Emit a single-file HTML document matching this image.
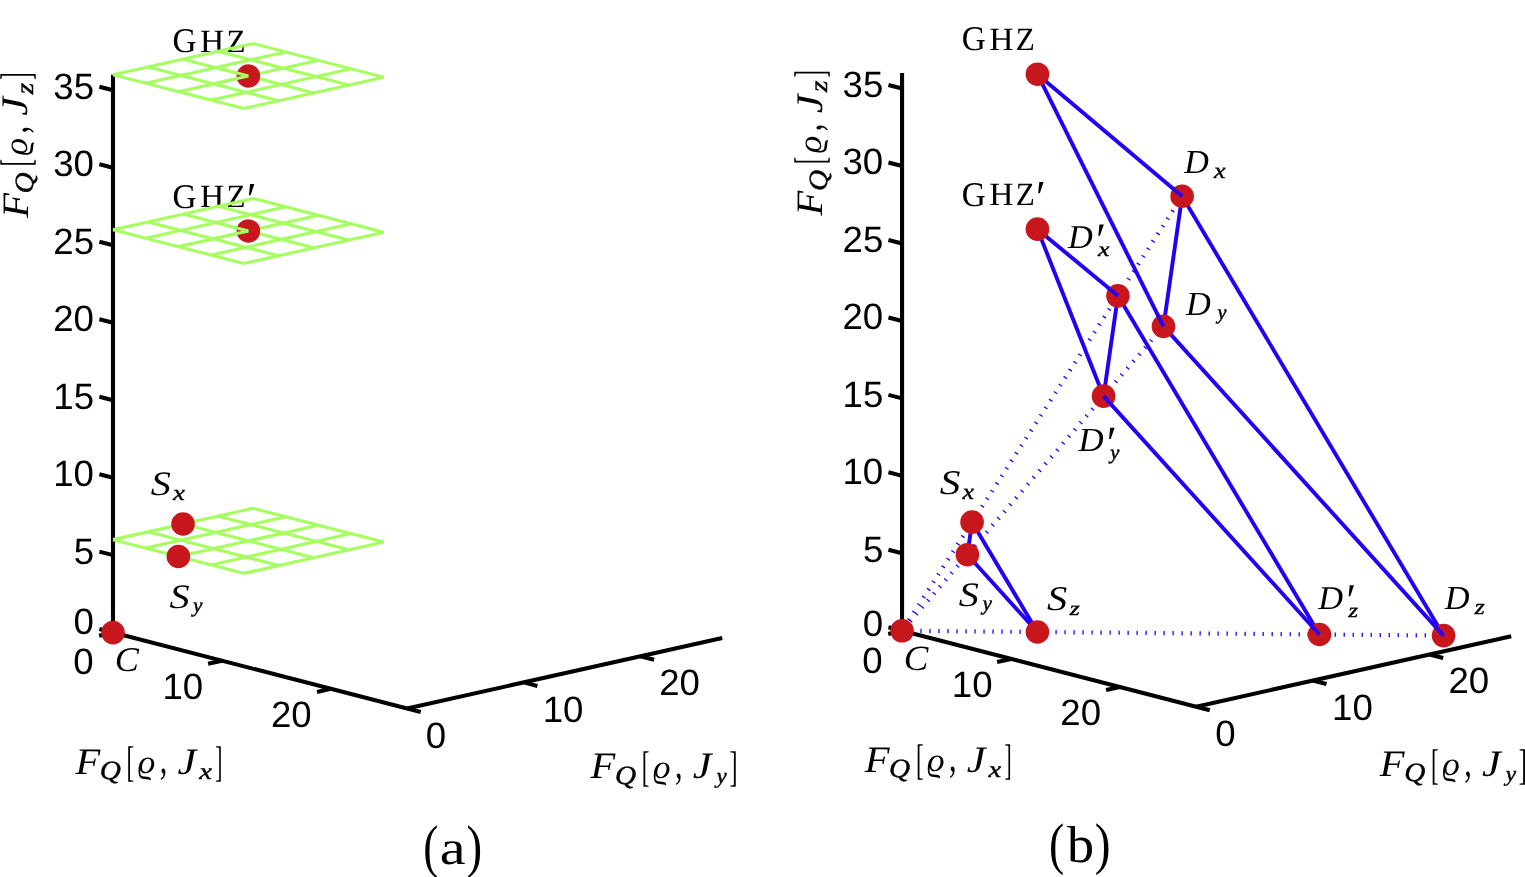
<!DOCTYPE html>
<html><head><meta charset="utf-8"><title>Figure</title>
<style>html,body{margin:0;padding:0;background:#fff;width:1525px;height:877px;overflow:hidden}svg{display:block}text{fill:#000;text-rendering:geometricPrecision}</style>
</head><body>
<svg width="1525" height="877" viewBox="0 0 1525 877">
<rect width="1525" height="877" fill="#fff"/>
<text transform="translate(73.632 563.641) scale(0.36600 0.36600)" font-family="'Liberation Sans', Arial, sans-serif" font-style="normal" font-size="100">5</text>
<text transform="translate(53.169 486.359) scale(0.36600 0.36600)" font-family="'Liberation Sans', Arial, sans-serif" font-style="normal" font-size="100">10</text>
<text transform="translate(53.277 408.701) scale(0.36600 0.36600)" font-family="'Liberation Sans', Arial, sans-serif" font-style="normal" font-size="100">15</text>
<text transform="translate(53.169 331.419) scale(0.36600 0.36600)" font-family="'Liberation Sans', Arial, sans-serif" font-style="normal" font-size="100">20</text>
<text transform="translate(53.277 253.949) scale(0.36600 0.36600)" font-family="'Liberation Sans', Arial, sans-serif" font-style="normal" font-size="100">25</text>
<text transform="translate(53.169 176.479) scale(0.36600 0.36600)" font-family="'Liberation Sans', Arial, sans-serif" font-style="normal" font-size="100">30</text>
<text transform="translate(53.277 99.009) scale(0.36600 0.36600)" font-family="'Liberation Sans', Arial, sans-serif" font-style="normal" font-size="100">35</text>
<text transform="translate(73.475 634.149) scale(0.36600 0.36600)" font-family="'Liberation Sans', Arial, sans-serif" font-style="normal" font-size="100">0</text>
<text transform="translate(73.372 674.199) scale(0.36600 0.36600)" font-family="'Liberation Sans', Arial, sans-serif" font-style="normal" font-size="100">0</text>
<text transform="translate(162.516 699.099) scale(0.36600 0.36600)" font-family="'Liberation Sans', Arial, sans-serif" font-style="normal" font-size="100">10</text>
<text transform="translate(270.989 727.199) scale(0.36600 0.36600)" font-family="'Liberation Sans', Arial, sans-serif" font-style="normal" font-size="100">20</text>
<text transform="translate(425.872 747.949) scale(0.36600 0.36600)" font-family="'Liberation Sans', Arial, sans-serif" font-style="normal" font-size="100">0</text>
<text transform="translate(542.766 721.599) scale(0.36600 0.36600)" font-family="'Liberation Sans', Arial, sans-serif" font-style="normal" font-size="100">10</text>
<text transform="translate(659.139 695.499) scale(0.36600 0.36600)" font-family="'Liberation Sans', Arial, sans-serif" font-style="normal" font-size="100">20</text>
<text transform="translate(75.418 773.6) scale(0.40512 0.37264)" font-family="'Liberation Serif', 'Times New Roman', serif" font-style="italic" font-size="100">F</text>
<text transform="translate(99.813 778.717) scale(0.29224 0.26267)" font-family="'Liberation Serif', 'Times New Roman', serif" font-style="italic" font-size="100" stroke="#000" stroke-width="1.622" stroke-linejoin="round">Q</text>
<text transform="translate(126.6 776.461) scale(0.22905 0.42893)" font-family="'Liberation Serif', 'Times New Roman', serif" font-style="normal" font-size="100">[</text>
<text transform="translate(137.738 772.958) scale(0.34682 0.33018)" font-family="'Liberation Serif', 'Times New Roman', serif" font-style="italic" font-size="100">ϱ</text>
<text transform="translate(159.749 773.213) scale(0.30216 0.44776)" font-family="'Liberation Serif', 'Times New Roman', serif" font-style="normal" font-size="100">,</text>
<text transform="translate(177.563 773.534) scale(0.42114 0.37469)" font-family="'Liberation Serif', 'Times New Roman', serif" font-style="italic" font-size="100">J</text>
<text transform="translate(199.275 778.875) scale(0.28636 0.23203)" font-family="'Liberation Serif', 'Times New Roman', serif" font-style="italic" font-size="100" stroke="#000" stroke-width="1.736" stroke-linejoin="round">x</text>
<text transform="translate(215.321 776.461) scale(0.21558 0.42893)" font-family="'Liberation Serif', 'Times New Roman', serif" font-style="normal" font-size="100">]</text>
<text transform="translate(590.618 778.4) scale(0.40512 0.37264)" font-family="'Liberation Serif', 'Times New Roman', serif" font-style="italic" font-size="100">F</text>
<text transform="translate(615.013 783.517) scale(0.29224 0.26267)" font-family="'Liberation Serif', 'Times New Roman', serif" font-style="italic" font-size="100" stroke="#000" stroke-width="1.622" stroke-linejoin="round">Q</text>
<text transform="translate(641.8 781.261) scale(0.22905 0.42893)" font-family="'Liberation Serif', 'Times New Roman', serif" font-style="normal" font-size="100">[</text>
<text transform="translate(652.938 777.758) scale(0.34682 0.33018)" font-family="'Liberation Serif', 'Times New Roman', serif" font-style="italic" font-size="100">ϱ</text>
<text transform="translate(674.949 778.013) scale(0.30216 0.44776)" font-family="'Liberation Serif', 'Times New Roman', serif" font-style="normal" font-size="100">,</text>
<text transform="translate(692.763 778.334) scale(0.42114 0.37469)" font-family="'Liberation Serif', 'Times New Roman', serif" font-style="italic" font-size="100">J</text>
<text transform="translate(716.463 783.326) scale(0.23208 0.22006)" font-family="'Liberation Serif', 'Times New Roman', serif" font-style="italic" font-size="100" stroke="#000" stroke-width="1.991" stroke-linejoin="round">y</text>
<text transform="translate(729.624 781.261) scale(0.24253 0.42893)" font-family="'Liberation Serif', 'Times New Roman', serif" font-style="normal" font-size="100">]</text>
<text transform="translate(27.5 217.782) rotate(-90) scale(0.40512 0.37264)" font-family="'Liberation Serif', 'Times New Roman', serif" font-style="italic" font-size="100">F</text>
<text transform="translate(32.617 193.387) rotate(-90) scale(0.29224 0.26267)" font-family="'Liberation Serif', 'Times New Roman', serif" font-style="italic" font-size="100" stroke="#000" stroke-width="1.622" stroke-linejoin="round">Q</text>
<text transform="translate(30.361 166.6) rotate(-90) scale(0.22905 0.42893)" font-family="'Liberation Serif', 'Times New Roman', serif" font-style="normal" font-size="100">[</text>
<text transform="translate(26.858 155.462) rotate(-90) scale(0.34682 0.33018)" font-family="'Liberation Serif', 'Times New Roman', serif" font-style="italic" font-size="100">ϱ</text>
<text transform="translate(27.113 133.451) rotate(-90) scale(0.30216 0.44776)" font-family="'Liberation Serif', 'Times New Roman', serif" font-style="normal" font-size="100">,</text>
<text transform="translate(27.434 115.637) rotate(-90) scale(0.42114 0.37469)" font-family="'Liberation Serif', 'Times New Roman', serif" font-style="italic" font-size="100">J</text>
<text transform="translate(32.875 94.343) rotate(-90) scale(0.29571 0.24946)" font-family="'Liberation Serif', 'Times New Roman', serif" font-style="italic" font-size="100" stroke="#000" stroke-width="1.651" stroke-linejoin="round">z</text>
<text transform="translate(30.361 79.711) rotate(-90) scale(0.22456 0.42893)" font-family="'Liberation Serif', 'Times New Roman', serif" font-style="normal" font-size="100">]</text>
<text transform="translate(172.537 52.263) scale(0.33236 0.34530)" font-family="'Liberation Serif', 'Times New Roman', serif" font-style="normal" font-size="100">G</text>
<text transform="translate(200.033 51.5) scale(0.33581 0.32377)" font-family="'Liberation Serif', 'Times New Roman', serif" font-style="normal" font-size="100">H</text>
<text transform="translate(226.503 51.5) scale(0.31281 0.32377)" font-family="'Liberation Serif', 'Times New Roman', serif" font-style="normal" font-size="100">Z</text>
<text transform="translate(172.537 207.963) scale(0.33236 0.34530)" font-family="'Liberation Serif', 'Times New Roman', serif" font-style="normal" font-size="100">G</text>
<text transform="translate(200.033 207.2) scale(0.33581 0.32377)" font-family="'Liberation Serif', 'Times New Roman', serif" font-style="normal" font-size="100">H</text>
<text transform="translate(226.503 207.2) scale(0.31281 0.32377)" font-family="'Liberation Serif', 'Times New Roman', serif" font-style="normal" font-size="100">Z</text>
<text transform="translate(246.683 214.846) scale(0.44956 0.47262)" font-family="'Liberation Serif', 'Times New Roman', serif" font-style="normal" font-size="100">′</text>
<text transform="translate(150.728 495.466) scale(0.40240 0.34233)" font-family="'Liberation Serif', 'Times New Roman', serif" font-style="italic" font-size="100">S</text>
<text transform="translate(173.05 500.275) scale(0.26631 0.21678)" font-family="'Liberation Serif', 'Times New Roman', serif" font-style="italic" font-size="100" stroke="#000" stroke-width="1.863" stroke-linejoin="round">x</text>
<text transform="translate(169.428 607.566) scale(0.40240 0.34233)" font-family="'Liberation Serif', 'Times New Roman', serif" font-style="italic" font-size="100">S</text>
<text transform="translate(193.105 612.049) scale(0.21314 0.20969)" font-family="'Liberation Serif', 'Times New Roman', serif" font-style="italic" font-size="100" stroke="#000" stroke-width="2.129" stroke-linejoin="round">y</text>
<text transform="translate(114.691 671.078) scale(0.36094 0.34704)" font-family="'Liberation Serif', 'Times New Roman', serif" font-style="italic" font-size="100">C</text>
<text transform="translate(423.215 865.833) scale(0.45165 0.58562)" font-family="'Liberation Serif', 'Times New Roman', serif" font-style="normal" font-size="100">(</text>
<text transform="translate(439.853 864.027) scale(0.58225 0.48434)" font-family="'Liberation Serif', 'Times New Roman', serif" font-style="normal" font-size="100">a</text>
<text transform="translate(466.482 865.833) scale(0.47112 0.58562)" font-family="'Liberation Serif', 'Times New Roman', serif" font-style="normal" font-size="100">)</text>
<text transform="translate(862.932 561.641) scale(0.36600 0.36600)" font-family="'Liberation Sans', Arial, sans-serif" font-style="normal" font-size="100">5</text>
<text transform="translate(842.469 484.359) scale(0.36600 0.36600)" font-family="'Liberation Sans', Arial, sans-serif" font-style="normal" font-size="100">10</text>
<text transform="translate(842.577 406.701) scale(0.36600 0.36600)" font-family="'Liberation Sans', Arial, sans-serif" font-style="normal" font-size="100">15</text>
<text transform="translate(842.469 329.419) scale(0.36600 0.36600)" font-family="'Liberation Sans', Arial, sans-serif" font-style="normal" font-size="100">20</text>
<text transform="translate(842.577 251.949) scale(0.36600 0.36600)" font-family="'Liberation Sans', Arial, sans-serif" font-style="normal" font-size="100">25</text>
<text transform="translate(842.469 174.479) scale(0.36600 0.36600)" font-family="'Liberation Sans', Arial, sans-serif" font-style="normal" font-size="100">30</text>
<text transform="translate(842.577 97.009) scale(0.36600 0.36600)" font-family="'Liberation Sans', Arial, sans-serif" font-style="normal" font-size="100">35</text>
<text transform="translate(862.775 636.499) scale(0.36600 0.36600)" font-family="'Liberation Sans', Arial, sans-serif" font-style="normal" font-size="100">0</text>
<text transform="translate(862.372 672.599) scale(0.36600 0.36600)" font-family="'Liberation Sans', Arial, sans-serif" font-style="normal" font-size="100">0</text>
<text transform="translate(951.816 697.099) scale(0.36600 0.36600)" font-family="'Liberation Sans', Arial, sans-serif" font-style="normal" font-size="100">10</text>
<text transform="translate(1060.289 725.199) scale(0.36600 0.36600)" font-family="'Liberation Sans', Arial, sans-serif" font-style="normal" font-size="100">20</text>
<text transform="translate(1215.172 745.949) scale(0.36600 0.36600)" font-family="'Liberation Sans', Arial, sans-serif" font-style="normal" font-size="100">0</text>
<text transform="translate(1332.066 719.599) scale(0.36600 0.36600)" font-family="'Liberation Sans', Arial, sans-serif" font-style="normal" font-size="100">10</text>
<text transform="translate(1448.439 693.499) scale(0.36600 0.36600)" font-family="'Liberation Sans', Arial, sans-serif" font-style="normal" font-size="100">20</text>
<text transform="translate(864.718 771.6) scale(0.40512 0.37264)" font-family="'Liberation Serif', 'Times New Roman', serif" font-style="italic" font-size="100">F</text>
<text transform="translate(889.113 776.717) scale(0.29224 0.26267)" font-family="'Liberation Serif', 'Times New Roman', serif" font-style="italic" font-size="100" stroke="#000" stroke-width="1.622" stroke-linejoin="round">Q</text>
<text transform="translate(915.9 774.461) scale(0.22905 0.42893)" font-family="'Liberation Serif', 'Times New Roman', serif" font-style="normal" font-size="100">[</text>
<text transform="translate(927.038 770.958) scale(0.34682 0.33018)" font-family="'Liberation Serif', 'Times New Roman', serif" font-style="italic" font-size="100">ϱ</text>
<text transform="translate(949.049 771.213) scale(0.30216 0.44776)" font-family="'Liberation Serif', 'Times New Roman', serif" font-style="normal" font-size="100">,</text>
<text transform="translate(966.863 771.534) scale(0.42114 0.37469)" font-family="'Liberation Serif', 'Times New Roman', serif" font-style="italic" font-size="100">J</text>
<text transform="translate(988.575 776.875) scale(0.28636 0.23203)" font-family="'Liberation Serif', 'Times New Roman', serif" font-style="italic" font-size="100" stroke="#000" stroke-width="1.736" stroke-linejoin="round">x</text>
<text transform="translate(1004.621 774.461) scale(0.21558 0.42893)" font-family="'Liberation Serif', 'Times New Roman', serif" font-style="normal" font-size="100">]</text>
<text transform="translate(1379.818 776.1) scale(0.40512 0.37264)" font-family="'Liberation Serif', 'Times New Roman', serif" font-style="italic" font-size="100">F</text>
<text transform="translate(1404.213 781.217) scale(0.29224 0.26267)" font-family="'Liberation Serif', 'Times New Roman', serif" font-style="italic" font-size="100" stroke="#000" stroke-width="1.622" stroke-linejoin="round">Q</text>
<text transform="translate(1431 778.961) scale(0.22905 0.42893)" font-family="'Liberation Serif', 'Times New Roman', serif" font-style="normal" font-size="100">[</text>
<text transform="translate(1442.138 775.458) scale(0.34682 0.33018)" font-family="'Liberation Serif', 'Times New Roman', serif" font-style="italic" font-size="100">ϱ</text>
<text transform="translate(1464.149 775.713) scale(0.30216 0.44776)" font-family="'Liberation Serif', 'Times New Roman', serif" font-style="normal" font-size="100">,</text>
<text transform="translate(1481.963 776.034) scale(0.42114 0.37469)" font-family="'Liberation Serif', 'Times New Roman', serif" font-style="italic" font-size="100">J</text>
<text transform="translate(1505.663 781.026) scale(0.23208 0.22006)" font-family="'Liberation Serif', 'Times New Roman', serif" font-style="italic" font-size="100" stroke="#000" stroke-width="1.991" stroke-linejoin="round">y</text>
<text transform="translate(1518.824 778.961) scale(0.24253 0.42893)" font-family="'Liberation Serif', 'Times New Roman', serif" font-style="normal" font-size="100">]</text>
<text transform="translate(821.6 215.482) rotate(-90) scale(0.40512 0.37264)" font-family="'Liberation Serif', 'Times New Roman', serif" font-style="italic" font-size="100">F</text>
<text transform="translate(826.717 191.087) rotate(-90) scale(0.29224 0.26267)" font-family="'Liberation Serif', 'Times New Roman', serif" font-style="italic" font-size="100" stroke="#000" stroke-width="1.622" stroke-linejoin="round">Q</text>
<text transform="translate(824.461 164.3) rotate(-90) scale(0.22905 0.42893)" font-family="'Liberation Serif', 'Times New Roman', serif" font-style="normal" font-size="100">[</text>
<text transform="translate(820.958 153.162) rotate(-90) scale(0.34682 0.33018)" font-family="'Liberation Serif', 'Times New Roman', serif" font-style="italic" font-size="100">ϱ</text>
<text transform="translate(821.213 131.151) rotate(-90) scale(0.30216 0.44776)" font-family="'Liberation Serif', 'Times New Roman', serif" font-style="normal" font-size="100">,</text>
<text transform="translate(821.534 113.337) rotate(-90) scale(0.42114 0.37469)" font-family="'Liberation Serif', 'Times New Roman', serif" font-style="italic" font-size="100">J</text>
<text transform="translate(826.975 92.043) rotate(-90) scale(0.29571 0.24946)" font-family="'Liberation Serif', 'Times New Roman', serif" font-style="italic" font-size="100" stroke="#000" stroke-width="1.651" stroke-linejoin="round">z</text>
<text transform="translate(824.461 77.411) rotate(-90) scale(0.22456 0.42893)" font-family="'Liberation Serif', 'Times New Roman', serif" font-style="normal" font-size="100">]</text>
<text transform="translate(961.837 50.263) scale(0.33236 0.34530)" font-family="'Liberation Serif', 'Times New Roman', serif" font-style="normal" font-size="100">G</text>
<text transform="translate(989.333 49.5) scale(0.33581 0.32377)" font-family="'Liberation Serif', 'Times New Roman', serif" font-style="normal" font-size="100">H</text>
<text transform="translate(1015.803 49.5) scale(0.31281 0.32377)" font-family="'Liberation Serif', 'Times New Roman', serif" font-style="normal" font-size="100">Z</text>
<text transform="translate(961.837 205.963) scale(0.33236 0.34530)" font-family="'Liberation Serif', 'Times New Roman', serif" font-style="normal" font-size="100">G</text>
<text transform="translate(989.333 205.2) scale(0.33581 0.32377)" font-family="'Liberation Serif', 'Times New Roman', serif" font-style="normal" font-size="100">H</text>
<text transform="translate(1015.803 205.2) scale(0.31281 0.32377)" font-family="'Liberation Serif', 'Times New Roman', serif" font-style="normal" font-size="100">Z</text>
<text transform="translate(1035.983 212.846) scale(0.44956 0.47262)" font-family="'Liberation Serif', 'Times New Roman', serif" font-style="normal" font-size="100">′</text>
<text transform="translate(1184.283 172.635) scale(0.34110 0.33499)" font-family="'Liberation Serif', 'Times New Roman', serif" font-style="italic" font-size="100">D</text>
<text transform="translate(1213.939 177.775) scale(0.25739 0.22550)" font-family="'Liberation Serif', 'Times New Roman', serif" font-style="italic" font-size="100" stroke="#000" stroke-width="1.864" stroke-linejoin="round">x</text>
<text transform="translate(1067.885 247.835) scale(0.34249 0.33347)" font-family="'Liberation Serif', 'Times New Roman', serif" font-style="italic" font-size="100">D</text>
<text transform="translate(1095.901 255.804) scale(0.46621 0.48113)" font-family="'Liberation Serif', 'Times New Roman', serif" font-style="normal" font-size="100">′</text>
<text transform="translate(1097.942 256.175) scale(0.25962 0.21025)" font-family="'Liberation Serif', 'Times New Roman', serif" font-style="italic" font-size="100" stroke="#000" stroke-width="1.915" stroke-linejoin="round">x</text>
<text transform="translate(1185.886 314.534) scale(0.34389 0.33803)" font-family="'Liberation Serif', 'Times New Roman', serif" font-style="italic" font-size="100">D</text>
<text transform="translate(1217.41 318.945) scale(0.20177 0.20524)" font-family="'Liberation Serif', 'Times New Roman', serif" font-style="italic" font-size="100" stroke="#000" stroke-width="2.211" stroke-linejoin="round">y</text>
<text transform="translate(1078.491 451.434) scale(0.34806 0.33803)" font-family="'Liberation Serif', 'Times New Roman', serif" font-style="italic" font-size="100">D</text>
<text transform="translate(1106.801 458.625) scale(0.46621 0.47687)" font-family="'Liberation Serif', 'Times New Roman', serif" font-style="normal" font-size="100">′</text>
<text transform="translate(1110.126 458.841) scale(0.20366 0.20080)" font-family="'Liberation Serif', 'Times New Roman', serif" font-style="italic" font-size="100" stroke="#000" stroke-width="2.225" stroke-linejoin="round">y</text>
<text transform="translate(939.716 493.661) scale(0.41299 0.34679)" font-family="'Liberation Serif', 'Times New Roman', serif" font-style="italic" font-size="100">S</text>
<text transform="translate(962.442 498.575) scale(0.25962 0.22550)" font-family="'Liberation Serif', 'Times New Roman', serif" font-style="italic" font-size="100" stroke="#000" stroke-width="1.855" stroke-linejoin="round">x</text>
<text transform="translate(958.728 605.566) scale(0.40240 0.34233)" font-family="'Liberation Serif', 'Times New Roman', serif" font-style="italic" font-size="100">S</text>
<text transform="translate(982.405 610.049) scale(0.21314 0.20969)" font-family="'Liberation Serif', 'Times New Roman', serif" font-style="italic" font-size="100" stroke="#000" stroke-width="2.129" stroke-linejoin="round">y</text>
<text transform="translate(1046.926 610.263) scale(0.40452 0.34530)" font-family="'Liberation Serif', 'Times New Roman', serif" font-style="italic" font-size="100">S</text>
<text transform="translate(1069.714 614.975) scale(0.25697 0.20371)" font-family="'Liberation Serif', 'Times New Roman', serif" font-style="italic" font-size="100" stroke="#000" stroke-width="1.954" stroke-linejoin="round">z</text>
<text transform="translate(1318.286 608.635) scale(0.34389 0.33194)" font-family="'Liberation Serif', 'Times New Roman', serif" font-style="italic" font-size="100">D</text>
<text transform="translate(1346.524 615.867) scale(0.44124 0.46836)" font-family="'Liberation Serif', 'Times New Roman', serif" font-style="normal" font-size="100">′</text>
<text transform="translate(1348.599 616.575) scale(0.24406 0.19935)" font-family="'Liberation Serif', 'Times New Roman', serif" font-style="italic" font-size="100" stroke="#000" stroke-width="2.030" stroke-linejoin="round">z</text>
<text transform="translate(1444.686 609.234) scale(0.34389 0.33651)" font-family="'Liberation Serif', 'Times New Roman', serif" font-style="italic" font-size="100">D</text>
<text transform="translate(1474.814 614.475) scale(0.25697 0.21678)" font-family="'Liberation Serif', 'Times New Roman', serif" font-style="italic" font-size="100" stroke="#000" stroke-width="1.900" stroke-linejoin="round">z</text>
<text transform="translate(903.746 669.771) scale(0.36899 0.35449)" font-family="'Liberation Serif', 'Times New Roman', serif" font-style="italic" font-size="100">C</text>
<text transform="translate(1049.098 862.915) scale(0.45554 0.57238)" font-family="'Liberation Serif', 'Times New Roman', serif" font-style="normal" font-size="100">(</text>
<text transform="translate(1067 861.992) scale(0.54123 0.52017)" font-family="'Liberation Serif', 'Times New Roman', serif" font-style="normal" font-size="100">b</text>
<text transform="translate(1094.769 862.915) scale(0.47501 0.57238)" font-family="'Liberation Serif', 'Times New Roman', serif" font-style="normal" font-size="100">)</text>
<line x1="113" y1="632.6" x2="113" y2="74.816" stroke="#000" stroke-width="4.1"/>
<line x1="113" y1="632.6" x2="407.111" y2="708.497" stroke="#000" stroke-width="4.1"/>
<line x1="407.111" y1="708.497" x2="722.201" y2="638" stroke="#000" stroke-width="4.1"/>
<line x1="99.384" y1="629.086" x2="113" y2="632.6" stroke="#000" stroke-width="4.1"/>
<line x1="99.384" y1="551.616" x2="113" y2="555.13" stroke="#000" stroke-width="4.1"/>
<line x1="99.384" y1="474.146" x2="113" y2="477.66" stroke="#000" stroke-width="4.1"/>
<line x1="99.384" y1="396.676" x2="113" y2="400.19" stroke="#000" stroke-width="4.1"/>
<line x1="99.384" y1="319.206" x2="113" y2="322.72" stroke="#000" stroke-width="4.1"/>
<line x1="99.384" y1="241.736" x2="113" y2="245.25" stroke="#000" stroke-width="4.1"/>
<line x1="99.384" y1="164.266" x2="113" y2="167.78" stroke="#000" stroke-width="4.1"/>
<line x1="99.384" y1="86.796" x2="113" y2="90.31" stroke="#000" stroke-width="4.1"/>
<line x1="99.142" y1="635.701" x2="113" y2="632.6" stroke="#000" stroke-width="4.1"/>
<line x1="208.072" y1="663.811" x2="221.93" y2="660.71" stroke="#000" stroke-width="4.1"/>
<line x1="317.002" y1="691.921" x2="330.86" y2="688.82" stroke="#000" stroke-width="4.1"/>
<line x1="407.111" y1="708.497" x2="420.727" y2="712.011" stroke="#000" stroke-width="4.1"/>
<line x1="523.811" y1="682.387" x2="537.427" y2="685.901" stroke="#000" stroke-width="4.1"/>
<line x1="640.511" y1="656.277" x2="654.127" y2="659.791" stroke="#000" stroke-width="4.1"/>
<line x1="902.05" y1="630.8" x2="902.05" y2="73.016" stroke="#000" stroke-width="4.1"/>
<line x1="902.05" y1="630.8" x2="1196.161" y2="706.697" stroke="#000" stroke-width="4.1"/>
<line x1="1196.161" y1="706.697" x2="1511.251" y2="636.2" stroke="#000" stroke-width="4.1"/>
<line x1="888.434" y1="627.286" x2="902.05" y2="630.8" stroke="#000" stroke-width="4.1"/>
<line x1="888.434" y1="549.816" x2="902.05" y2="553.33" stroke="#000" stroke-width="4.1"/>
<line x1="888.434" y1="472.346" x2="902.05" y2="475.86" stroke="#000" stroke-width="4.1"/>
<line x1="888.434" y1="394.876" x2="902.05" y2="398.39" stroke="#000" stroke-width="4.1"/>
<line x1="888.434" y1="317.406" x2="902.05" y2="320.92" stroke="#000" stroke-width="4.1"/>
<line x1="888.434" y1="239.936" x2="902.05" y2="243.45" stroke="#000" stroke-width="4.1"/>
<line x1="888.434" y1="162.466" x2="902.05" y2="165.98" stroke="#000" stroke-width="4.1"/>
<line x1="888.434" y1="84.996" x2="902.05" y2="88.51" stroke="#000" stroke-width="4.1"/>
<line x1="888.192" y1="633.901" x2="902.05" y2="630.8" stroke="#000" stroke-width="4.1"/>
<line x1="997.122" y1="662.011" x2="1010.98" y2="658.91" stroke="#000" stroke-width="4.1"/>
<line x1="1106.052" y1="690.121" x2="1119.91" y2="687.02" stroke="#000" stroke-width="4.1"/>
<line x1="1196.161" y1="706.697" x2="1209.777" y2="710.211" stroke="#000" stroke-width="4.1"/>
<line x1="1312.861" y1="680.587" x2="1326.477" y2="684.101" stroke="#000" stroke-width="4.1"/>
<line x1="1429.561" y1="654.477" x2="1443.177" y2="657.991" stroke="#000" stroke-width="4.1"/>
<line x1="113" y1="539.636" x2="253.04" y2="508.304" stroke="#a6ff60" stroke-width="3.1"/>
<line x1="113" y1="539.636" x2="243.716" y2="573.368" stroke="#a6ff60" stroke-width="3.1"/>
<line x1="145.679" y1="548.069" x2="285.719" y2="516.737" stroke="#a6ff60" stroke-width="3.1"/>
<line x1="148.01" y1="531.803" x2="278.726" y2="565.535" stroke="#a6ff60" stroke-width="3.1"/>
<line x1="178.358" y1="556.502" x2="318.398" y2="525.17" stroke="#a6ff60" stroke-width="3.1"/>
<line x1="183.02" y1="523.97" x2="313.736" y2="557.702" stroke="#a6ff60" stroke-width="3.1"/>
<line x1="211.037" y1="564.935" x2="351.077" y2="533.603" stroke="#a6ff60" stroke-width="3.1"/>
<line x1="218.03" y1="516.137" x2="348.746" y2="549.869" stroke="#a6ff60" stroke-width="3.1"/>
<line x1="243.716" y1="573.368" x2="383.756" y2="542.036" stroke="#a6ff60" stroke-width="3.1"/>
<line x1="253.04" y1="508.304" x2="383.756" y2="542.036" stroke="#a6ff60" stroke-width="3.1"/>
<line x1="113" y1="229.756" x2="253.04" y2="198.424" stroke="#a6ff60" stroke-width="3.1"/>
<line x1="113" y1="229.756" x2="243.716" y2="263.488" stroke="#a6ff60" stroke-width="3.1"/>
<line x1="145.679" y1="238.189" x2="285.719" y2="206.857" stroke="#a6ff60" stroke-width="3.1"/>
<line x1="148.01" y1="221.923" x2="278.726" y2="255.655" stroke="#a6ff60" stroke-width="3.1"/>
<line x1="178.358" y1="246.622" x2="318.398" y2="215.29" stroke="#a6ff60" stroke-width="3.1"/>
<line x1="183.02" y1="214.09" x2="313.736" y2="247.822" stroke="#a6ff60" stroke-width="3.1"/>
<line x1="211.037" y1="255.055" x2="351.077" y2="223.723" stroke="#a6ff60" stroke-width="3.1"/>
<line x1="218.03" y1="206.257" x2="348.746" y2="239.989" stroke="#a6ff60" stroke-width="3.1"/>
<line x1="243.716" y1="263.488" x2="383.756" y2="232.156" stroke="#a6ff60" stroke-width="3.1"/>
<line x1="253.04" y1="198.424" x2="383.756" y2="232.156" stroke="#a6ff60" stroke-width="3.1"/>
<line x1="113" y1="74.816" x2="253.04" y2="43.484" stroke="#a6ff60" stroke-width="3.1"/>
<line x1="113" y1="74.816" x2="243.716" y2="108.548" stroke="#a6ff60" stroke-width="3.1"/>
<line x1="145.679" y1="83.249" x2="285.719" y2="51.917" stroke="#a6ff60" stroke-width="3.1"/>
<line x1="148.01" y1="66.983" x2="278.726" y2="100.715" stroke="#a6ff60" stroke-width="3.1"/>
<line x1="178.358" y1="91.682" x2="318.398" y2="60.35" stroke="#a6ff60" stroke-width="3.1"/>
<line x1="183.02" y1="59.15" x2="313.736" y2="92.882" stroke="#a6ff60" stroke-width="3.1"/>
<line x1="211.037" y1="100.115" x2="351.077" y2="68.783" stroke="#a6ff60" stroke-width="3.1"/>
<line x1="218.03" y1="51.317" x2="348.746" y2="85.049" stroke="#a6ff60" stroke-width="3.1"/>
<line x1="243.716" y1="108.548" x2="383.756" y2="77.216" stroke="#a6ff60" stroke-width="3.1"/>
<line x1="253.04" y1="43.484" x2="383.756" y2="77.216" stroke="#a6ff60" stroke-width="3.1"/>
<circle cx="113" cy="632.6" r="11.8" fill="#c8171c"/>
<circle cx="183.02" cy="523.97" r="11.8" fill="#c8171c"/>
<circle cx="178.358" cy="556.502" r="11.8" fill="#c8171c"/>
<circle cx="248.378" cy="76.016" r="11.8" fill="#c8171c"/>
<circle cx="248.378" cy="230.956" r="11.8" fill="#c8171c"/>
<line x1="215.699" y1="67.583" x2="248.378" y2="76.016" stroke="#a6ff60" stroke-width="3.1"/>
<line x1="213.368" y1="83.849" x2="248.378" y2="76.016" stroke="#a6ff60" stroke-width="3.1"/>
<line x1="215.699" y1="222.523" x2="248.378" y2="230.956" stroke="#a6ff60" stroke-width="3.1"/>
<line x1="213.368" y1="238.789" x2="248.378" y2="230.956" stroke="#a6ff60" stroke-width="3.1"/>
<line x1="902.05" y1="630.8" x2="1182.13" y2="196.28" stroke="#2200f5" stroke-width="4.2" stroke-dasharray="1.3 7.705" stroke-dashoffset="-3.5"/>
<line x1="902.05" y1="630.8" x2="1163.482" y2="326.408" stroke="#2200f5" stroke-width="4.2" stroke-dasharray="1.3 7.705" stroke-dashoffset="-3.5"/>
<line x1="902.05" y1="630.8" x2="1443.562" y2="635.6" stroke="#2200f5" stroke-width="4.2" stroke-dasharray="1.3 7.705" stroke-dashoffset="-0.3"/>
<line x1="1037.428" y1="74.216" x2="1182.13" y2="196.28" stroke="#2200f5" stroke-width="3.9"/>
<line x1="1037.428" y1="74.216" x2="1163.482" y2="326.408" stroke="#2200f5" stroke-width="3.9"/>
<line x1="1182.13" y1="196.28" x2="1163.482" y2="326.408" stroke="#2200f5" stroke-width="3.9"/>
<line x1="1182.13" y1="196.28" x2="1443.562" y2="635.6" stroke="#2200f5" stroke-width="3.9"/>
<line x1="1163.482" y1="326.408" x2="1443.562" y2="635.6" stroke="#2200f5" stroke-width="3.9"/>
<line x1="1037.428" y1="229.156" x2="1117.945" y2="295.858" stroke="#2200f5" stroke-width="3.9"/>
<line x1="1037.428" y1="229.156" x2="1103.571" y2="396.165" stroke="#2200f5" stroke-width="3.9"/>
<line x1="1117.945" y1="295.858" x2="1103.571" y2="396.165" stroke="#2200f5" stroke-width="3.9"/>
<line x1="1117.945" y1="295.858" x2="1319.466" y2="634.5" stroke="#2200f5" stroke-width="3.9"/>
<line x1="1103.571" y1="396.165" x2="1319.466" y2="634.5" stroke="#2200f5" stroke-width="3.9"/>
<line x1="972.07" y1="522.17" x2="967.408" y2="554.702" stroke="#2200f5" stroke-width="3.9"/>
<line x1="972.07" y1="522.17" x2="1037.428" y2="632" stroke="#2200f5" stroke-width="3.9"/>
<line x1="967.408" y1="554.702" x2="1037.428" y2="632" stroke="#2200f5" stroke-width="3.9"/>
<circle cx="902.05" cy="630.8" r="11.8" fill="#c8171c"/>
<circle cx="972.07" cy="522.17" r="11.8" fill="#c8171c"/>
<circle cx="967.408" cy="554.702" r="11.8" fill="#c8171c"/>
<circle cx="1037.428" cy="632" r="11.8" fill="#c8171c"/>
<circle cx="1037.428" cy="74.216" r="11.8" fill="#c8171c"/>
<circle cx="1037.428" cy="229.156" r="11.8" fill="#c8171c"/>
<circle cx="1182.13" cy="196.28" r="11.8" fill="#c8171c"/>
<circle cx="1163.482" cy="326.408" r="11.8" fill="#c8171c"/>
<circle cx="1443.562" cy="635.6" r="11.8" fill="#c8171c"/>
<circle cx="1117.945" cy="295.858" r="11.8" fill="#c8171c"/>
<circle cx="1103.571" cy="396.165" r="11.8" fill="#c8171c"/>
<circle cx="1319.466" cy="634.5" r="11.8" fill="#c8171c"/>
<line x1="1182.13" y1="196.28" x2="1172.346" y2="188.027" stroke="#2200f5" stroke-width="3.9"/>
<line x1="1163.482" y1="326.408" x2="1157.759" y2="314.959" stroke="#2200f5" stroke-width="3.9"/>
<line x1="1443.562" y1="635.6" x2="1434.969" y2="626.113" stroke="#2200f5" stroke-width="3.9"/>
<line x1="1117.945" y1="295.858" x2="1108.088" y2="287.692" stroke="#2200f5" stroke-width="3.9"/>
<line x1="1103.571" y1="396.165" x2="1112.164" y2="405.651" stroke="#2200f5" stroke-width="3.9"/>
<line x1="1319.466" y1="634.5" x2="1310.872" y2="625.013" stroke="#2200f5" stroke-width="3.9"/>
</svg>
</body></html>
